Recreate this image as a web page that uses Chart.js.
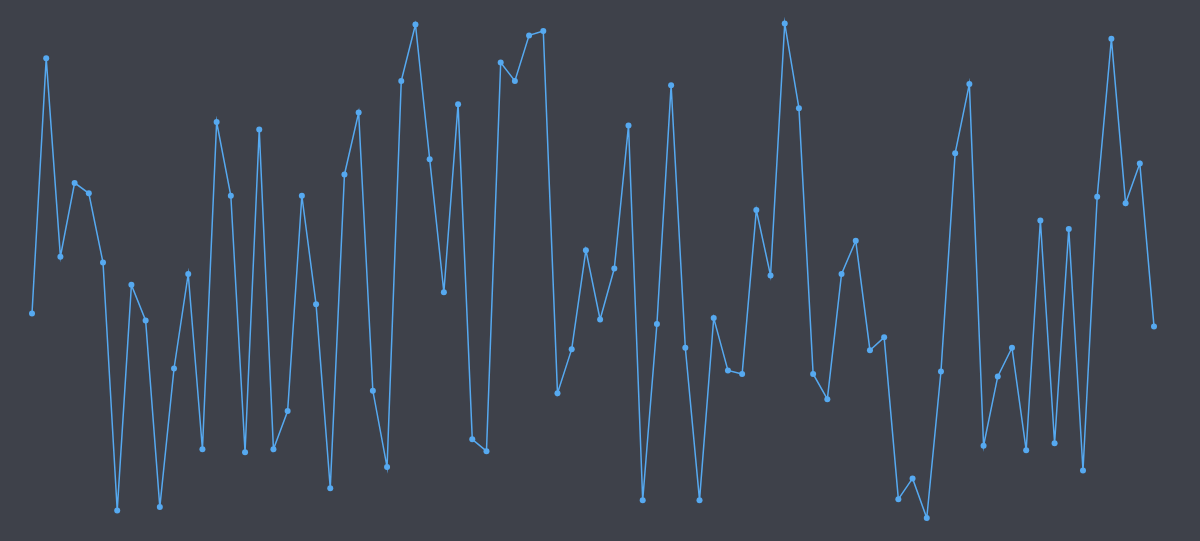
<!DOCTYPE html>
<html>
<head>
<meta charset="utf-8">
<script src="https://cdn.jsdelivr.net/npm/chart.js@4"></script>
<style>
  html, body { margin: 0; padding: 0; background: #3e414a; }
  #wrap { width: 1200px; height: 541px; position: relative; }
</style>
</head>
<body>
<div id="wrap"><canvas id="lineChart"></canvas></div>
<script>
const labels = [];
for (let i = 1; i <= 80; i++) labels.push(String(i));

const values = [
  41.3, 92.9, 52.8, 67.7, 65.6, 51.6, 1.5, 47.1, 39.9, 2.2,
  30.2, 49.3, 13.9, 80.0, 65.1, 13.3, 78.5, 13.9, 21.6, 65.1,
  43.2, 6.0, 69.4, 81.9, 25.7, 10.3, 88.3, 99.7, 72.5, 45.6,
  83.6, 15.9, 13.5, 92.0, 88.3, 97.5, 98.4, 25.2, 34.1, 54.1,
  40.1, 50.4, 79.3, 3.6, 39.2, 87.4, 34.4, 3.6, 40.4, 29.8,
  29.1, 62.2, 49.0, 99.9, 82.8, 29.1, 24.0, 49.3, 56.0, 33.9,
  36.5, 3.8, 8.0, 0.0, 29.6, 73.7, 87.7, 14.6, 28.6, 34.4,
  13.7, 60.1, 15.1, 58.4, 9.6, 64.9, 96.8, 63.6, 71.6, 38.7
];

const yMin = 0;
const yMax = 100;

const ctx = document.getElementById('lineChart').getContext('2d');
const lineChart = new Chart(ctx, {
  type: 'line',
  data: {
    labels: labels,
    datasets: [{
      data: values,
      borderColor: '#56a9f0',
      backgroundColor: '#56a9f0',
      borderWidth: 1.5,
      pointRadius: 3,
      pointBorderWidth: 0,
      pointBackgroundColor: '#56a9f0',
      tension: 0,
      fill: false,
      clip: false,
    }]
  },
  options: {
    responsive: true,
    maintainAspectRatio: false,
    animation: false,
    layout: { padding: { left: 32, right: 46, top: 23, bottom: 23 } },
    plugins: { legend: { display: false }, tooltip: { enabled: false } },
    scales: {
      x: { display: false },
      y: { display: false, min: yMin, max: yMax }
    }
  }
});
</script>
</body>
</html>
